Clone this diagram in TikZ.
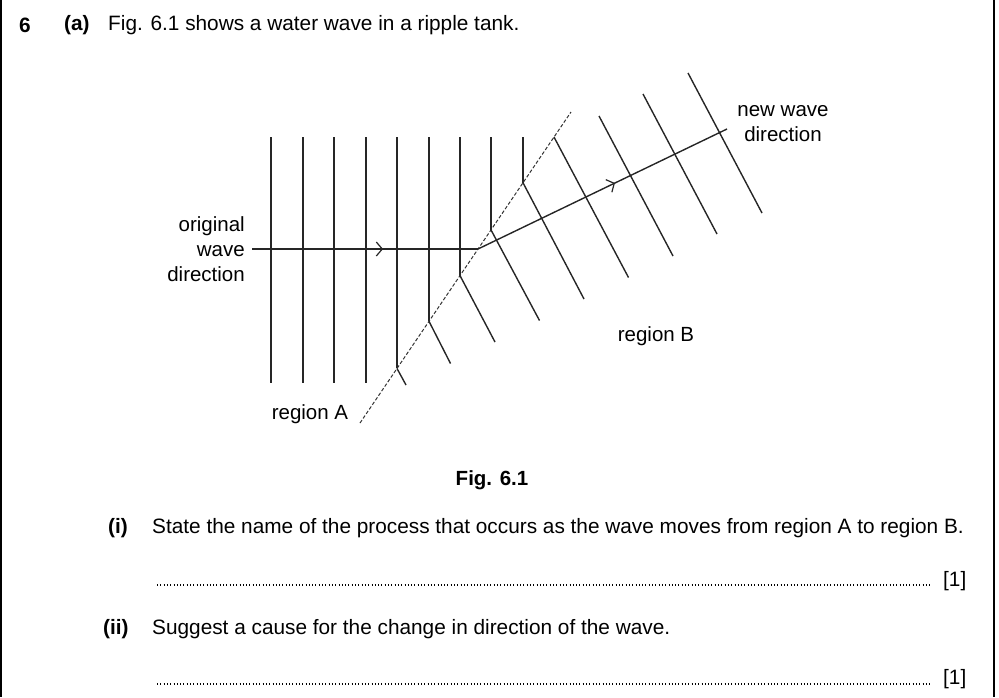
\documentclass[tikz,border=0pt]{standalone}
\usepackage{fontspec}
\setmainfont{Liberation Sans}
\usetikzlibrary{arrows.meta,decorations.markings}
\begin{document}
\begin{tikzpicture}[x=1pt,y=-1pt,
  wf/.style={line width=1.4pt,black!85},
  ray/.style={line width=1.4pt,black!85},
  bnd/.style={line width=1pt,dash pattern=on 3.5pt off 2pt,black!80},
  lbl/.style={font=\fontsize{20.5}{24}\selectfont,inner sep=0pt},
  body/.style={font=\fontsize{20.8}{24}\selectfont,inner sep=0pt,anchor=west},
  bbody/.style={body,font=\fontsize{20.8}{24}\selectfont\bfseries},
  chev/.style={postaction={decorate,decoration={markings,mark=at position #1 with {\arrow[line width=1.2pt]{Straight Barb[length=6pt,width=14pt]}}}}}
]
\useasboundingbox (0,0) rectangle (999,697);
\draw[line width=2pt] (1,0) -- (1,697);
\draw[line width=1.5pt] (994,0) -- (994,697);
% header
\node[bbody] (q6) at (19,25) {6};
\node[bbody] (qa) at (64,25) {(a)};
\node[body] (intro) at (108,25) {Fig. 6.1 shows a water wave in a ripple tank.};
% vertical wavefronts
\foreach \x in {271,303,334,366} \draw[wf] (\x,137) -- (\x,383);
\foreach \x in {397,429,460,491,523} {
  \pgfmathsetmacro{\yb}{423-1.474*(\x-360)}
  \draw[wf] (\x,137) -- (\x,\yb);
}
% boundary
\coordinate (bA) at (360,423);
\coordinate (bB) at (571,112);
\draw[bnd] (bA) -- (bB);
% refracted wavefronts
\foreach \x/\k in {397/0,429/1,460/2,491/3,523/4,554/5} {
  \pgfmathsetmacro{\yb}{423-1.474*(\x-360)}
  \draw[wf] (\x,\yb) -- (406+44.5*\k,385-21.5*\k);
}
\draw[wf] (599,116) -- (673,256);
\draw[wf] (643,94) -- (717,234);
\draw[wf] (688,73) -- (762,213);
% labels
\node[lbl,align=right,anchor=east] (orig) at (245,249) {original\\[1pt]wave\\[1pt]direction};
\node[lbl] (regA) at (310,414) {region A};
\node[lbl] (regB) at (656,336) {region B};
\node[lbl,align=center] (newd) at (783,124) {new wave\\[1pt]direction};
% rays
\coordinate (hit) at (478,249);
\coordinate (rend) at (727,129);
\draw[ray,chev=0.58] (252,249) -- (hit);
\draw[ray,chev=0.55] (hit) -- (rend);
\node[lbl,font=\fontsize{20.5}{24}\selectfont\bfseries] (fig) at (492,480) {Fig. 6.1};
% questions
\node[bbody] (qi) at (108,528) {(i)};
\node[body] (ti) at (152,528) {State the name of the process that occurs as the wave moves from region A to region B.};
\draw[line width=1.1pt,dash pattern=on 1pt off 2.3pt] (157,585) -- (930,585);
\node[body] (m1) at (943,581) {[1]};
\node[bbody] (qii) at (103,629) {(ii)};
\node[body] (tii) at (152,629) {Suggest a cause for the change in direction of the wave.};
\draw[line width=1.1pt,dash pattern=on 1pt off 2.3pt] (157,684) -- (930,684);
\node[body] (m2) at (943,679) {[1]};
\end{tikzpicture}
\end{document}
